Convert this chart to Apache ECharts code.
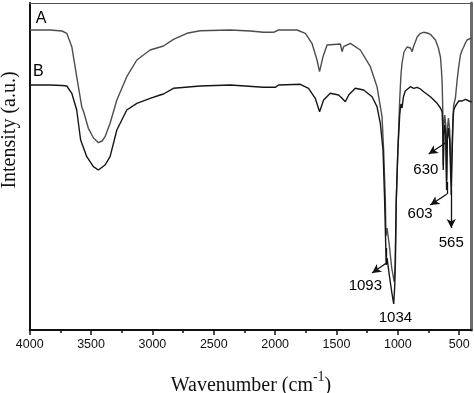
<!DOCTYPE html>
<html><head><meta charset="utf-8">
<script src="https://cdn.jsdelivr.net/npm/echarts@6/dist/echarts.min.js"></script>
<style>html,body{margin:0;padding:0;background:#fff}#c{width:474px;height:393px}</style>
</head><body><div id="c"></div>
<script>
// Spectrum A (upper curve): wavenumber (cm-1) and intensity (arbitrary units)
const wavenumberA = [4000,3900,3834,3737,3698,3657,3617,3576,3560,3522,3480,3440,3410,3386,3345,3290,3209,3127,3019,2937,2925,2910,2829,2719,2611,2366,2203,2095,2013,1972,1822,1754,1700,1659,1638,1610,1577,1469,1455,1442,1387,1306,1224,1170,1129,1116,1102,1097,1088,1070,1050,1030,1020,1013,1000,985,975,966,950,925,910,898,884,871,857,843,816,790,760,735,694,670,653,645,639,634,630,625,618,610,603,597,588,578,565,557,550,545,531,517,504,490,476,463,455,450,436,420,408,400];
const intensityA = [300,300,300,299,296.7,283.3,253.3,223.3,218,201.7,192,187.3,189,193.3,206.7,230,253.3,270,280,283,281,284,290.7,296.7,299.3,300,299,297.7,297.7,300,300,296.7,286.7,270,258.3,273.3,285,286,278.3,283.3,286.7,280,263.3,243.3,213.3,180,130,94,102,85,62,48,65,130,180,230,255,267,278,283,284.5,282,278.3,284,288.3,293,296.7,297.7,297,295.7,290,282,273,260,247,220,165,205,215,205,150,200,212,200,155,190,215,225,232,250,263.3,275,280,283.3,285,287,290,291,291.7,292];
// Spectrum B (lower curve)
const wavenumberB = [4000,3834,3737,3698,3657,3617,3585,3570,3535,3481,3440,3386,3345,3290,3209,3127,3019,2937,2925,2910,2829,2611,2366,2095,1999,1972,1795,1728,1673,1638,1605,1551,1483,1455,1428,1401,1347,1279,1210,1170,1143,1121,1108,1100,1095,1088,1070,1050,1034,1025,1013,1000,985,975,966,955,940,925,898,884,871,857,843,816,790,735,680,653,639,634,630,625,618,610,603,597,588,578,565,557,550,545,531,517,504,490,476,463,450,436,420,408,400];
const intensityB = [245,245,244.5,244,236.7,220,190,185,173.3,163.3,160,165,173.3,200,220,226.7,231.7,235,233,236,241.7,244,245,242.7,242.7,245,245.7,241.7,231.7,218.3,230,236.7,235,231.7,228.3,235,241.7,240,233.3,223.3,206.7,180,130,90,65,72,55,38,26,45,130,180,215,226,222,233,239,241,243.3,242,241.7,242.5,242.7,241,238.3,233.3,226.7,222,218,200,160,195,205,195,140,190,202,190,135,180,210,220,224,226.7,229,230,229,228.3,230.7,230.7,229,228.3,228];
// Axis ticks
const majorTicks = [500,1000,1500,2000,2500,3000,3500,4000];
const minorTicks = [750,1250,1750,2250,2750,3250,3750];
// Annotation texts and anchor points [wavenumber, intensity, text]
const curveNames = [[3908,311.7,'A'],[3930,258.3,'B']];
const peakLabels = [[772,160.5,'630'],[819,116,'603'],[565,87.5,'565'],[1265,44,'1093'],[1020,12.5,'1034']];
// Arrow segments: [from, to, arrowHead]
const arrowSegments = [
  [[613,187],[749,176],true],
  [[600,148],[600,136],false],
  [[600,136],[735,125],true],
  [[565,140],[565,102],true],
  [[1093,82],[1093,67],false],
  [[1093,67],[1210,57],true]
];

const zip = (xs, ys) => xs.map((x, i) => [x, ys[i]]);
const chart = echarts.init(document.getElementById('c'), null, {renderer: 'canvas'});
const sans = 'Liberation Sans, Arial, sans-serif';
const serif = 'Liberation Serif, Times New Roman, serif';

const labelSeries = (name, data, size) => ({
  type: 'scatter', name, data, symbol: 'circle', symbolSize: 1,
  itemStyle: {color: 'rgba(255,255,255,0)'}, silent: true, z: 5,
  label: {show: true, position: 'inside', formatter: p => p.value[2], fontSize: size, fontFamily: sans,
    color: '#000', textBorderWidth: 0, textShadowBlur: 0, opacity: 1}
});

chart.setOption({
  animation: false,
  backgroundColor: '#fff',
  grid: {left: 29.7, right: 2.5, top: 3, bottom: 63},
  xAxis: [
    {type: 'value', min: 400, max: 4000, inverse: true, position: 'bottom',
     axisLine: {show: true, lineStyle: {color: '#111', width: 2}},
     axisTick: {show: true, inside: false, length: 5, customValues: majorTicks, lineStyle: {color: '#111', width: 1.5}},
     axisLabel: {show: true, customValues: majorTicks, margin: 8, fontSize: 12.5, fontFamily: sans, color: '#111',
       formatter: v => String(v)},
     splitLine: {show: false}},
    {type: 'value', min: 400, max: 4000, inverse: true, position: 'bottom',
     axisLine: {show: false},
     axisTick: {show: true, inside: false, length: 3, customValues: minorTicks, lineStyle: {color: '#111', width: 1.5}},
     axisLabel: {show: false}, splitLine: {show: false}},
    {type: 'value', min: 400, max: 4000, inverse: true, position: 'top',
     axisLine: {show: true, lineStyle: {color: '#555', width: 1}},
     axisTick: {show: false}, axisLabel: {show: false}, splitLine: {show: false}}
  ],
  yAxis: [
    {type: 'value', min: 0, max: 327, position: 'left',
     axisLine: {show: true, lineStyle: {color: '#111', width: 2}},
     axisTick: {show: false}, axisLabel: {show: false}, splitLine: {show: false}},
    {type: 'value', min: 0, max: 327, position: 'right',
     axisLine: {show: true, lineStyle: {color: '#6a6a6a', width: 3}},
     axisTick: {show: false}, axisLabel: {show: false}, splitLine: {show: false}}
  ],
  series: [
    {type: 'line', name: 'A', data: zip(wavenumberA, intensityA), showSymbol: false, symbol: 'none',
     lineStyle: {color: '#4d4d4d', width: 1.4}, silent: true},
    {type: 'line', name: 'B', data: zip(wavenumberB, intensityB), showSymbol: false, symbol: 'none',
     lineStyle: {color: '#151515', width: 1.4}, silent: true,
     markLine: {silent: true, animation: false, symbolSize: [7, 9],
       label: {show: false},
       lineStyle: {color: '#111', width: 1.3, type: 'solid'},
       data: arrowSegments.map(s => [
         {coord: s[0], symbol: 'none'},
         {coord: s[1], symbol: s[2] ? 'arrow' : 'none'}
       ])}},
    labelSeries('peaks', peakLabels, 15),
    labelSeries('curves', curveNames, 16)
  ],
  graphic: [
    {type: 'text', x: 10, y: 130, rotation: Math.PI / 2,
     style: {text: 'Intensity (a.u.)', font: '20px "Liberation Serif"', fill: '#111', align: 'center', verticalAlign: 'middle'}},
    {type: 'text', x: 251, y: 383,
     style: {text: '{m|Wavenumber (cm}{s|-1}{m|)}', align: 'center', verticalAlign: 'middle', fill: '#111',
       rich: {m: {fontFamily: serif, fontSize: 20, lineHeight: 26, verticalAlign: 'bottom', fill: '#111'},
              s: {fontFamily: serif, fontSize: 14, lineHeight: 26, verticalAlign: 'top', fill: '#111'}}}}
  ]
});
</script>
</body></html>
